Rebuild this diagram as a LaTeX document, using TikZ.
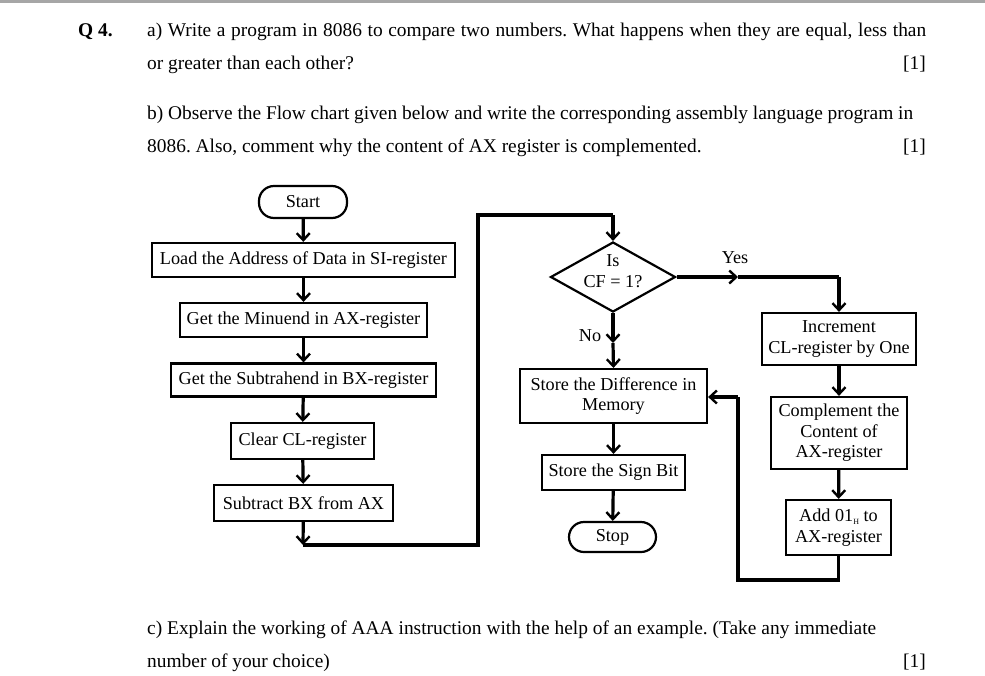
\documentclass[tikz,border=0pt]{standalone}
\usepackage{fontspec}
\setmainfont{Liberation Serif}
\usetikzlibrary{arrows.meta,shapes.geometric}
\frenchspacing
\begin{document}
\begin{tikzpicture}[x=1pt,y=-1pt,
  qtext/.style={anchor=base west,inner sep=0pt,font=\fontsize{19.4}{22}\selectfont},
  marktext/.style={anchor=base east,inner sep=0pt,font=\fontsize{19.4}{22}\selectfont},
  ftext/.style={inner sep=0pt,align=center,font=\fontsize{18.2}{20.5}\selectfont},
  box/.style={ftext,draw,line width=2.2pt},
  term/.style={box,rounded corners=15pt},
  conn/.style={line width=3.2pt},
  arr/.style={conn,-{Straight Barb[length=7pt,width=13pt,line width=2.4pt]}}
]
\useasboundingbox (0,0) rectangle (985,675);
\fill[gray!70] (0,0) rectangle (985,2.5);
% question text
\node[anchor=base west,inner sep=0pt,font=\bfseries\fontsize{19.4}{22}\selectfont] (q) at (78,36) {Q 4.};
\node[qtext] (a1) at (147,36) {\makebox[779pt][s]{a) Write a program in 8086 to compare two numbers. What happens when they are equal, less than}};
\node[qtext] (a2) at (147,69) {or greater than each other?};
\node[marktext] (m1) at (926,69) {[1]};
\node[qtext] (b1) at (147,119) {\makebox[766pt][s]{b) Observe the Flow chart given below and write the corresponding assembly language program in}};
\node[qtext] (b2) at (147,152) {8086. Also, comment why the content of AX register is complemented.};
\node[marktext] (m2) at (926,152) {[1]};
\node[qtext] (c1) at (147,634) {\makebox[729pt][s]{c) Explain the working of AAA instruction with the help of an example. (Take any immediate}};
\node[qtext] (c2) at (147,667) {number of your choice)};
\node[marktext] (m3) at (926,667) {[1]};
% flowchart left column
\node[term,minimum width=88pt,minimum height=32pt] (start) at (303,202) {Start};
\node[box,minimum width=303pt,minimum height=34pt] (load) at (303.5,260) {Load the Address of Data in SI-register};
\node[box,minimum width=247pt,minimum height=34pt] (minu) at (303.5,320) {Get the Minuend in AX-register};
\node[box,minimum width=265pt,minimum height=33pt] (subt) at (303.5,380) {Get the Subtrahend in BX-register};
\node[box,minimum width=143pt,minimum height=36pt] (clr) at (302.5,441) {Clear CL-register};
\node[box,minimum width=179pt,minimum height=36pt] (sub) at (303.5,503) {Subtract BX from AX};
% middle column
\node[draw,line width=2.2pt,diamond,inner sep=0pt,minimum width=125pt,minimum height=70pt] (dec) at (613,277) {};
\node[ftext] (dtext) at (613,271) {Is\\CF = 1?};
\node[box,minimum width=187pt,minimum height=54pt] (sdiff) at (613.5,396) {Store the Difference in\\Memory};
\node[box,minimum width=143pt,minimum height=35pt] (ssign) at (613.5,472.5) {Store the Sign Bit};
\node[term,minimum width=87pt,minimum height=30pt] (stop) at (612.5,537) {Stop};
% right column
\node[box,minimum width=154pt,minimum height=52pt] (inc) at (839,339) {Increment\\CL-register by One};
\node[box,minimum width=136pt,minimum height=72pt] (comp) at (839,433) {Complement the\\Content of\\AX-register};
\node[box,minimum width=105pt,minimum height=55pt] (add) at (838.5,527.5) {Add 01\raisebox{-3pt}{\fontsize{8}{8}\selectfont H} to\\AX-register};
% connectors
\draw[arr] (start) -- (load);
\draw[arr] (load) -- (minu);
\draw[arr] (minu) -- (subt);
\draw[arr] (subt) -- (clr);
\draw[arr] (clr) -- (sub);
\coordinate (c1a) at (303,545);
\coordinate (c1b) at (478,545);
\coordinate (c1c) at (478,215);
\coordinate (c1d) at (613,215);
\draw[arr] (sub) -- (c1a);
\draw[conn] (c1a) -- (c1b) -- (c1c) -- (c1d);
\draw[arr] (c1d) -- (dec.north);
\coordinate (ym) at (738,277);
\coordinate (yc) at (839,277);
\draw[arr] (dec.east) -- (ym);
\draw[conn] (ym) -- (yc);
\draw[arr] (yc) -- (inc.north);
\node[ftext] (yes) at (735,258) {Yes};
\coordinate (nm) at (613,343);
\draw[arr] (dec.south) -- (nm);
\draw[arr] (nm) -- (sdiff.north);
\node[ftext] (no) at (590,336) {No};
\draw[arr] (sdiff) -- (ssign);
\draw[arr] (ssign) -- (stop);
\draw[arr] (inc) -- (comp);
\draw[arr] (comp) -- (add);
\coordinate (l1) at (838.5,580);
\coordinate (l2) at (738,580);
\coordinate (l3) at (738,397);
\draw[conn] (add.south) -- (l1) -- (l2) -- (l3);
\draw[arr] (l3) -- (sdiff.east |- l3);
\end{tikzpicture}
\end{document}
